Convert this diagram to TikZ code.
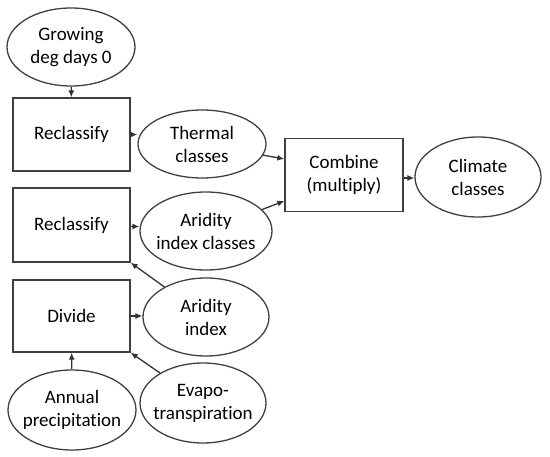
\documentclass[tikz,border=0pt]{standalone}
\usepackage{fontspec}
\setmainfont[Ligatures={NoCommon}]{Carlito}
\usetikzlibrary{shapes.geometric,arrows.meta}

\tikzset{
  blob/.style={draw=black!75, line width=1.3pt, ellipse, inner xsep=-6pt, inner ysep=0pt, align=center},
  tool/.style={draw=black!75, line width=1.3pt, rectangle, inner sep=0pt, align=center,
    minimum width=117pt, minimum height=73pt},
  flow/.style={draw=black!80, line width=1.3pt, -{Latex[length=7pt,width=6pt]}}
}

\begin{document}
\begin{tikzpicture}[x=1pt,y=-1pt,font=\fontsize{19}{23}\selectfont]
  \useasboundingbox (0,0) rectangle (550,457);

  %% inputs and steps, left column
  \node[blob, minimum width=128pt, minimum height=78pt] (gdd) at (71,47) {Growing\\deg days 0};
  \node[tool] (recl1) at (71.5,134.5) {Reclassify};
  \node[tool, minimum height=74pt] (recl2) at (71.5,225) {Reclassify};
  \node[tool, minimum height=72pt] (div) at (71.5,316) {Divide};
  \node[blob, minimum width=128pt, minimum height=80pt] (prec) at (72,410) {Annual\\precipitation};

  %% outputs, middle column
  \node[blob, minimum width=128pt, minimum height=68pt] (therm) at (202,144) {Thermal\\classes};
  \node[blob, minimum width=132pt, minimum height=78pt] (aic) at (206,231) {Aridity\\index classes};
  \node[blob, minimum width=126pt, minimum height=78pt] (ai) at (206,317) {Aridity\\index};
  \node[blob, minimum width=126pt, minimum height=80pt] (evap) at (203,403) {Evapo-\\transpiration};

  %% combine
  \node[tool, minimum width=118pt] (comb) at (344,175) {Combine\\(multiply)};
  \node[blob, minimum width=126pt, minimum height=80pt] (clim) at (478,177) {Climate\\classes};

  %% arrows
  \draw[flow] (gdd) -- (recl1);
  \draw[flow] (recl1.east) -- (recl1.east -| therm.west);
  \draw[flow] ([yshift=-1.5pt]recl2.east) -- ([yshift=-1.5pt]recl2.east -| aic.west);
  \draw[flow] (div.east) -- (div.east -| ai.west);
  \draw[flow] (prec) -- (div);
  \draw[flow] (evap) -- (div.south east);
  \draw[flow] (ai) -- (recl2.south east);
  \draw[flow] (therm) -- ([yshift=16pt]comb.west);
  \draw[flow] (aic) -- ([yshift=-26pt]comb.west);
  \draw[flow] ([yshift=-3pt]comb.east) -- ([yshift=-3pt]comb.east -| clim.west);

\end{tikzpicture}
\end{document}
